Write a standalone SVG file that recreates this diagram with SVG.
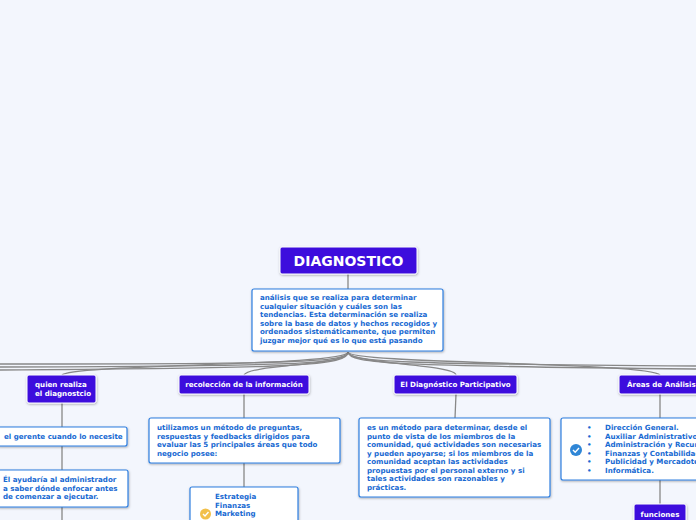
<svg xmlns="http://www.w3.org/2000/svg" width="696" height="520" viewBox="0 0 696 520">
<style>
.p{fill:#3c10dd;stroke:#ffffff;stroke-width:1;filter:url(#sh)}
.w{fill:#ffffff;stroke:#2f7fe0;stroke-width:1.2;filter:url(#sh)}
.pt{font-family:"DejaVu Sans",sans-serif;font-weight:bold;font-size:7.1px;fill:#ffffff}
.bt{font-family:"DejaVu Sans",sans-serif;font-weight:bold;font-size:7.1px;fill:#1769d2}
.c{fill:none;stroke:#888;stroke-width:1.3}
</style>
<defs><filter id="sh" x="-10%" y="-10%" width="120%" height="130%"><feDropShadow dx="0.5" dy="1" stdDeviation="0.8" flood-color="#000" flood-opacity="0.3"/></filter></defs>
<rect width="696" height="520" fill="#f3f6fd"/>
<g id="connectors">
<path class="c" d="M348 274V289"/>
<path class="c" d="M348 352C348 362 300 364 0 364"/>
<path class="c" d="M348 352C348 364 300 366 0 367"/>
<path class="c" d="M348 352C348 366 300 368 0 370"/>
<path class="c" d="M348 352C348 366 70 364 62 375"/>
<path class="c" d="M348 352C348 366 250 364 244 375"/>
<path class="c" d="M348 352C348 364 455 364 456 375"/>
<path class="c" d="M348 352C348 364 650 362 660 375"/>
<path class="c" d="M348 352C348 362 400 364 696 366"/>
<path class="c" d="M348 352C348 364 400 366 696 369"/>
<path class="c" d="M62 403V427M62 446V470M62 507V520"/>
<path class="c" d="M244 394V418M244 463V487"/>
<path class="c" d="M456 394L455 418"/>
<path class="c" d="M660 394V418M660 480V504"/>
</g>
<g id="root"><rect class="p" x="280" y="247" width="137" height="27" rx="2"/><text x="348.5" y="266" text-anchor="middle" font-family="DejaVu Sans,sans-serif" font-weight="bold" font-size="14" fill="#fff">DIAGNOSTICO</text></g>
<g id="desc"><rect class="w" x="252" y="289" width="191" height="62" rx="2"/><text class="bt"><tspan x="260" y="300">análisis que se realiza para determinar</tspan><tspan x="260" y="308.5">cualquier situación y cuáles son las</tspan><tspan x="260" y="317">tendencias. Esta determinación se realiza</tspan><tspan x="260" y="325.5">sobre la base de datos y hechos recogidos y</tspan><tspan x="260" y="334">ordenados sistemáticamente, que permiten</tspan><tspan x="260" y="342.5">juzgar mejor qué es lo que está pasando</tspan></text></g>
<g id="quien"><rect class="p" x="27" y="375" width="69" height="28" rx="2"/><text class="pt"><tspan x="35" y="387">quien realiza</tspan><tspan x="35" y="396">el diagnostcio</tspan></text></g>
<g id="recoleccion"><rect class="p" x="179" y="375" width="130" height="19" rx="2"/><text class="pt" x="244" y="387" text-anchor="middle">recolección de la información</text></g>
<g id="participativo"><rect class="p" x="394" y="375" width="123" height="19" rx="2"/><text class="pt" x="455.5" y="387" text-anchor="middle">El Diagnóstico Participativo</text></g>
<g id="areas"><rect class="p" x="619" y="375" width="82" height="19" rx="2"/><text class="pt" x="627" y="387">Áreas de Análisis</text></g>
<g id="gerente"><rect class="w" x="-3" y="427" width="130" height="19" rx="2"/><text class="bt" x="4" y="439">el gerente cuando lo necesite</text></g>
<g id="ayudaria"><rect class="w" x="-3" y="470" width="131" height="37" rx="2"/><text class="bt"><tspan x="3" y="482">Él ayudaría al administrador</tspan><tspan x="3" y="490.5">a saber dónde enfocar antes</tspan><tspan x="3" y="499">de comenzar a ejecutar.</tspan></text></g>
<g id="utilizamos"><rect class="w" x="149" y="418" width="191" height="45" rx="2"/><text class="bt"><tspan x="157" y="430">utilizamos un método de preguntas,</tspan><tspan x="157" y="438.5">respuestas y feedbacks dirigidos para</tspan><tspan x="157" y="447">evaluar las 5 principales áreas que todo</tspan><tspan x="157" y="455.5">negocio posee:</tspan></text></g>
<g id="estrategia"><rect class="w" x="190" y="487" width="108" height="40" rx="2"/><circle cx="205.5" cy="514" r="5.5" fill="#f2c04a"/><path d="M203 514l2 2 3.5-4" stroke="#fff" stroke-width="1.4" fill="none"/><text class="bt"><tspan x="215" y="499">Estrategia</tspan><tspan x="215" y="507.5">Finanzas</tspan><tspan x="215" y="516">Marketing</tspan></text></g>
<g id="metodo"><rect class="w" x="359" y="418" width="191" height="79" rx="2"/><text class="bt"><tspan x="367" y="430">es un método para determinar, desde el</tspan><tspan x="367" y="438.5">punto de vista de los miembros de la</tspan><tspan x="367" y="447">comunidad, qué actividades son necesarias</tspan><tspan x="367" y="455.5">y pueden apoyarse; si los miembros de la</tspan><tspan x="367" y="464">comunidad aceptan las actividades</tspan><tspan x="367" y="472.5">propuestas por el personal externo y si</tspan><tspan x="367" y="481">tales actividades son razonables y</tspan><tspan x="367" y="489.5">prácticas.</tspan></text></g>
<g id="direccion"><rect class="w" x="561" y="418" width="140" height="62" rx="2"/><circle cx="576" cy="450" r="6" fill="#2f86d6"/><path d="M573 450l2.2 2.2 3.8-4.2" stroke="#fff" stroke-width="1.4" fill="none"/><text class="bt"><tspan x="587" y="430">•</tspan><tspan x="587" y="438.5">•</tspan><tspan x="587" y="447">•</tspan><tspan x="587" y="455.5">•</tspan><tspan x="587" y="464">•</tspan><tspan x="587" y="472.5">•</tspan></text><text class="bt"><tspan x="605" y="430">Dirección General.</tspan><tspan x="605" y="438.5">Auxiliar Administrativo</tspan><tspan x="605" y="447">Administración y Recursos</tspan><tspan x="605" y="455.5">Finanzas y Contabilidad</tspan><tspan x="605" y="464">Publicidad y Mercadotecnia</tspan><tspan x="605" y="472.5">Informática.</tspan></text></g>
<g id="funciones"><rect class="p" x="634" y="504" width="52" height="22" rx="2"/><text class="pt" x="660" y="517" text-anchor="middle">funciones</text></g>
</svg>
